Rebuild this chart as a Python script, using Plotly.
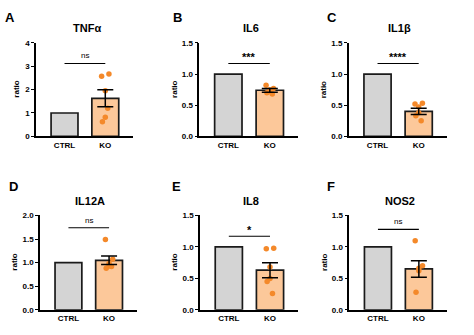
import plotly.graph_objects as go

# Gene panels, in reading order
panels = ["A", "B", "C", "D", "E", "F"]
genes = ["TNFα", "IL6", "IL1β", "IL12A", "IL8", "NOS2"]
groups = ["CTRL", "KO"]

# Group means (CTRL normalised to 1) and SEM of the KO group
ctrl_mean = [1.0, 1.0, 1.0, 1.0, 1.0, 1.0]
ko_mean = [1.63, 0.74, 0.40, 1.05, 0.63, 0.65]
ko_sem = [0.36, 0.03, 0.05, 0.09, 0.12, 0.13]

# Individual KO replicates
ko_points = [
    [2.57, 2.67, 1.95, 0.82, 0.62, 1.20],
    [0.82, 0.77, 0.75, 0.72, 0.70, 0.68],
    [0.52, 0.53, 0.47, 0.38, 0.33, 0.25],
    [1.49, 1.07, 0.98, 0.93, 0.88, 0.92],
    [0.97, 0.98, 0.68, 0.50, 0.45, 0.26],
    [1.10, 0.70, 0.66, 0.62, 0.28],
]

# Significance labels and y-axis layout
sig_text = ["ns", "***", "****", "ns", "*", "ns"]
sig_level = [3.12, 1.17, 1.17, 1.74, 1.17, 1.28]
y_max = [4, 1.5, 1.5, 2.0, 1.5, 1.5]
y_step = [1, 0.5, 0.5, 0.5, 0.5, 0.5]

W, H = 474, 335
# horizontal pixel extents of each panel's plotting area
x_px = [(36, 133), (199.3, 298), (348.7, 446.7), (40, 136.7), (200, 298), (349.3, 446.7)]
# vertical pixel extents (top of axis, bottom of axis) per row
y_px = [(40, 136), (40, 136), (40, 136), (217.3, 314.3), (217.3, 314.3), (217.3, 314.3)]
letter_px = [(10, 14), (177, 14), (332, 14), (13, 188), (176, 188), (331, 188)]

jitter = [-0.09, 0.09, 0.0, 0.0, -0.07, 0.06, 0.0]

GREY = "#d4d4d4"
ORANGE_FILL = "#fcc89a"
ORANGE_DOT = "#f4892a"
FONT = "Liberation Sans"

fig = go.Figure()
annotations = []
shapes = []

for i in range(6):
    ax = "" if i == 0 else str(i + 1)
    xref, yref = "x" + ax, "y" + ax
    # bars
    fig.add_trace(go.Bar(
        x=[0, 1], y=[ctrl_mean[i], ko_mean[i]], width=0.66,
        marker=dict(color=[GREY, ORANGE_FILL], line=dict(color="#1a1a1a", width=1.7)),
        xaxis=xref, yaxis=yref, showlegend=False,
    ))
    # replicate dots
    pts = ko_points[i]
    fig.add_trace(go.Scatter(
        x=[1 + jitter[k % len(jitter)] for k in range(len(pts))], y=pts,
        mode="markers", marker=dict(color=ORANGE_DOT, size=5.5),
        xaxis=xref, yaxis=yref, showlegend=False,
    ))
    # mean ± SEM
    fig.add_trace(go.Scatter(
        x=[1], y=[ko_mean[i]], mode="markers",
        marker=dict(size=0.1, color="black"),
        error_y=dict(type="data", array=[ko_sem[i]], color="black", thickness=1.5, width=8),
        xaxis=xref, yaxis=yref, showlegend=False,
    ))

    x0, x1 = x_px[i]
    yt, yb = y_px[i]
    n_ticks = int(round(y_max[i] / y_step[i]))
    tickvals = [k * y_step[i] for k in range(n_ticks + 1)]
    fig.layout["xaxis" + ax] = dict(
        domain=[x0 / W, x1 / W], range=[-0.7, 1.68], anchor=yref,
        tickvals=[0, 1], ticktext=groups, showline=True, linecolor="black", linewidth=1.5,
        showgrid=False, zeroline=False, ticks="",
        tickfont=dict(family=FONT, size=8, color="black", weight="bold"),
        fixedrange=True,
    )
    fig.layout["yaxis" + ax] = dict(
        domain=[1 - yb / H, 1 - yt / H], range=[0, y_max[i]], anchor=xref,
        tickvals=tickvals, tickformat=".0f" if y_step[i] >= 1 else ".1f",
        showline=True, linecolor="black", linewidth=1.5, ticks="outside", ticklen=3,
        tickwidth=1.2, tickcolor="black", showgrid=False, zeroline=False,
        tickfont=dict(family=FONT, size=8, color="black", weight="bold"),
        fixedrange=True,
    )

    # significance bar
    shapes.append(dict(type="line", xref=xref, yref=yref, x0=0, x1=1,
                       y0=sig_level[i], y1=sig_level[i], line=dict(color="black", width=1.2)))
    is_star = "*" in sig_text[i]
    annotations.append(dict(
        xref=xref, yref=yref, x=0.5, y=sig_level[i], text=sig_text[i], showarrow=False,
        yanchor="bottom", yshift=-2 if is_star else 1,
        font=dict(family=FONT, size=11 if is_star else 8, color="black", weight="bold" if is_star else "normal"),
    ))
    # gene title
    annotations.append(dict(
        xref="paper", yref="paper", x=((x0 + x1) / 2 + 2) / W, y=1 - (yt - 15) / H,
        text=genes[i], showarrow=False, yanchor="middle", xanchor="center",
        font=dict(family=FONT, size=11, color="black", weight="bold"),
    ))
    # y-axis title
    off = 19 if y_step[i] >= 1 else 25
    annotations.append(dict(
        xref="paper", yref="paper", x=(x0 - off) / W, y=1 - ((yt + yb) / 2) / H,
        text="ratio", showarrow=False, textangle=-90, xanchor="center", yanchor="middle",
        font=dict(family=FONT, size=8, color="black", weight="bold"),
    ))
    # panel letter
    lx, ly = letter_px[i]
    annotations.append(dict(
        xref="paper", yref="paper", x=lx / W, y=1 - ly / H, text=panels[i], showarrow=False,
        xanchor="center", yanchor="middle",
        font=dict(family=FONT, size=13, color="black", weight="bold"),
    ))

fig.update_layout(
    width=W, height=H, margin=dict(l=0, r=0, t=0, b=0),
    paper_bgcolor="white", plot_bgcolor="white",
    annotations=annotations, shapes=shapes, barmode="overlay",
)

fig.write_html("out.html", config={"displayModeBar": False})
